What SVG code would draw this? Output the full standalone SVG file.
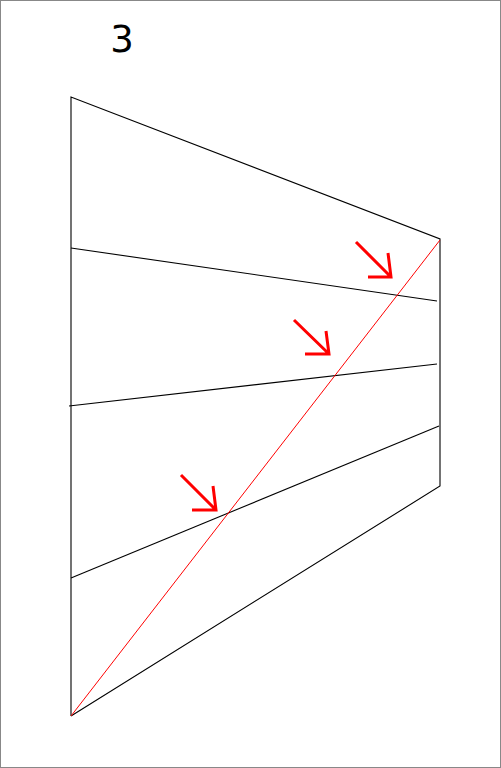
<svg xmlns="http://www.w3.org/2000/svg" width="501" height="768" viewBox="0 0 501 768">
<style>
.k{stroke:#000;stroke-width:1.1;fill:none}
.r{stroke:#f00;stroke-width:1;fill:none}
.a{stroke:#f00;stroke-width:3;fill:none}
</style>
<rect x="0.5" y="0.5" width="500" height="767" fill="#fff" stroke="#888" stroke-width="1"/>
<g id="label"><text x="122" y="52" font-family="DejaVu Sans, sans-serif" font-size="37" text-anchor="middle">3</text></g>
<g id="shape">
<polyline class="k" points="71,716 71,97 440,239 440,486 71,716"/>
<line class="k" x1="71" y1="248" x2="437" y2="301"/>
<line class="k" x1="69" y1="406" x2="437" y2="364"/>
<line class="k" x1="71" y1="578" x2="439" y2="426"/>
</g>
<g id="connectors">
<line class="r" x1="71" y1="716" x2="440" y2="240"/>
<path class="a" d="M356,242 L391,277 M368,277 L391,277 L388,253"/>
<path class="a" d="M294,320 L329,354 M305,354 L329,354 L326,331"/>
<path class="a" d="M181,475 L216,510 M192,510 L216,510 L213,486"/>
</g>
</svg>
